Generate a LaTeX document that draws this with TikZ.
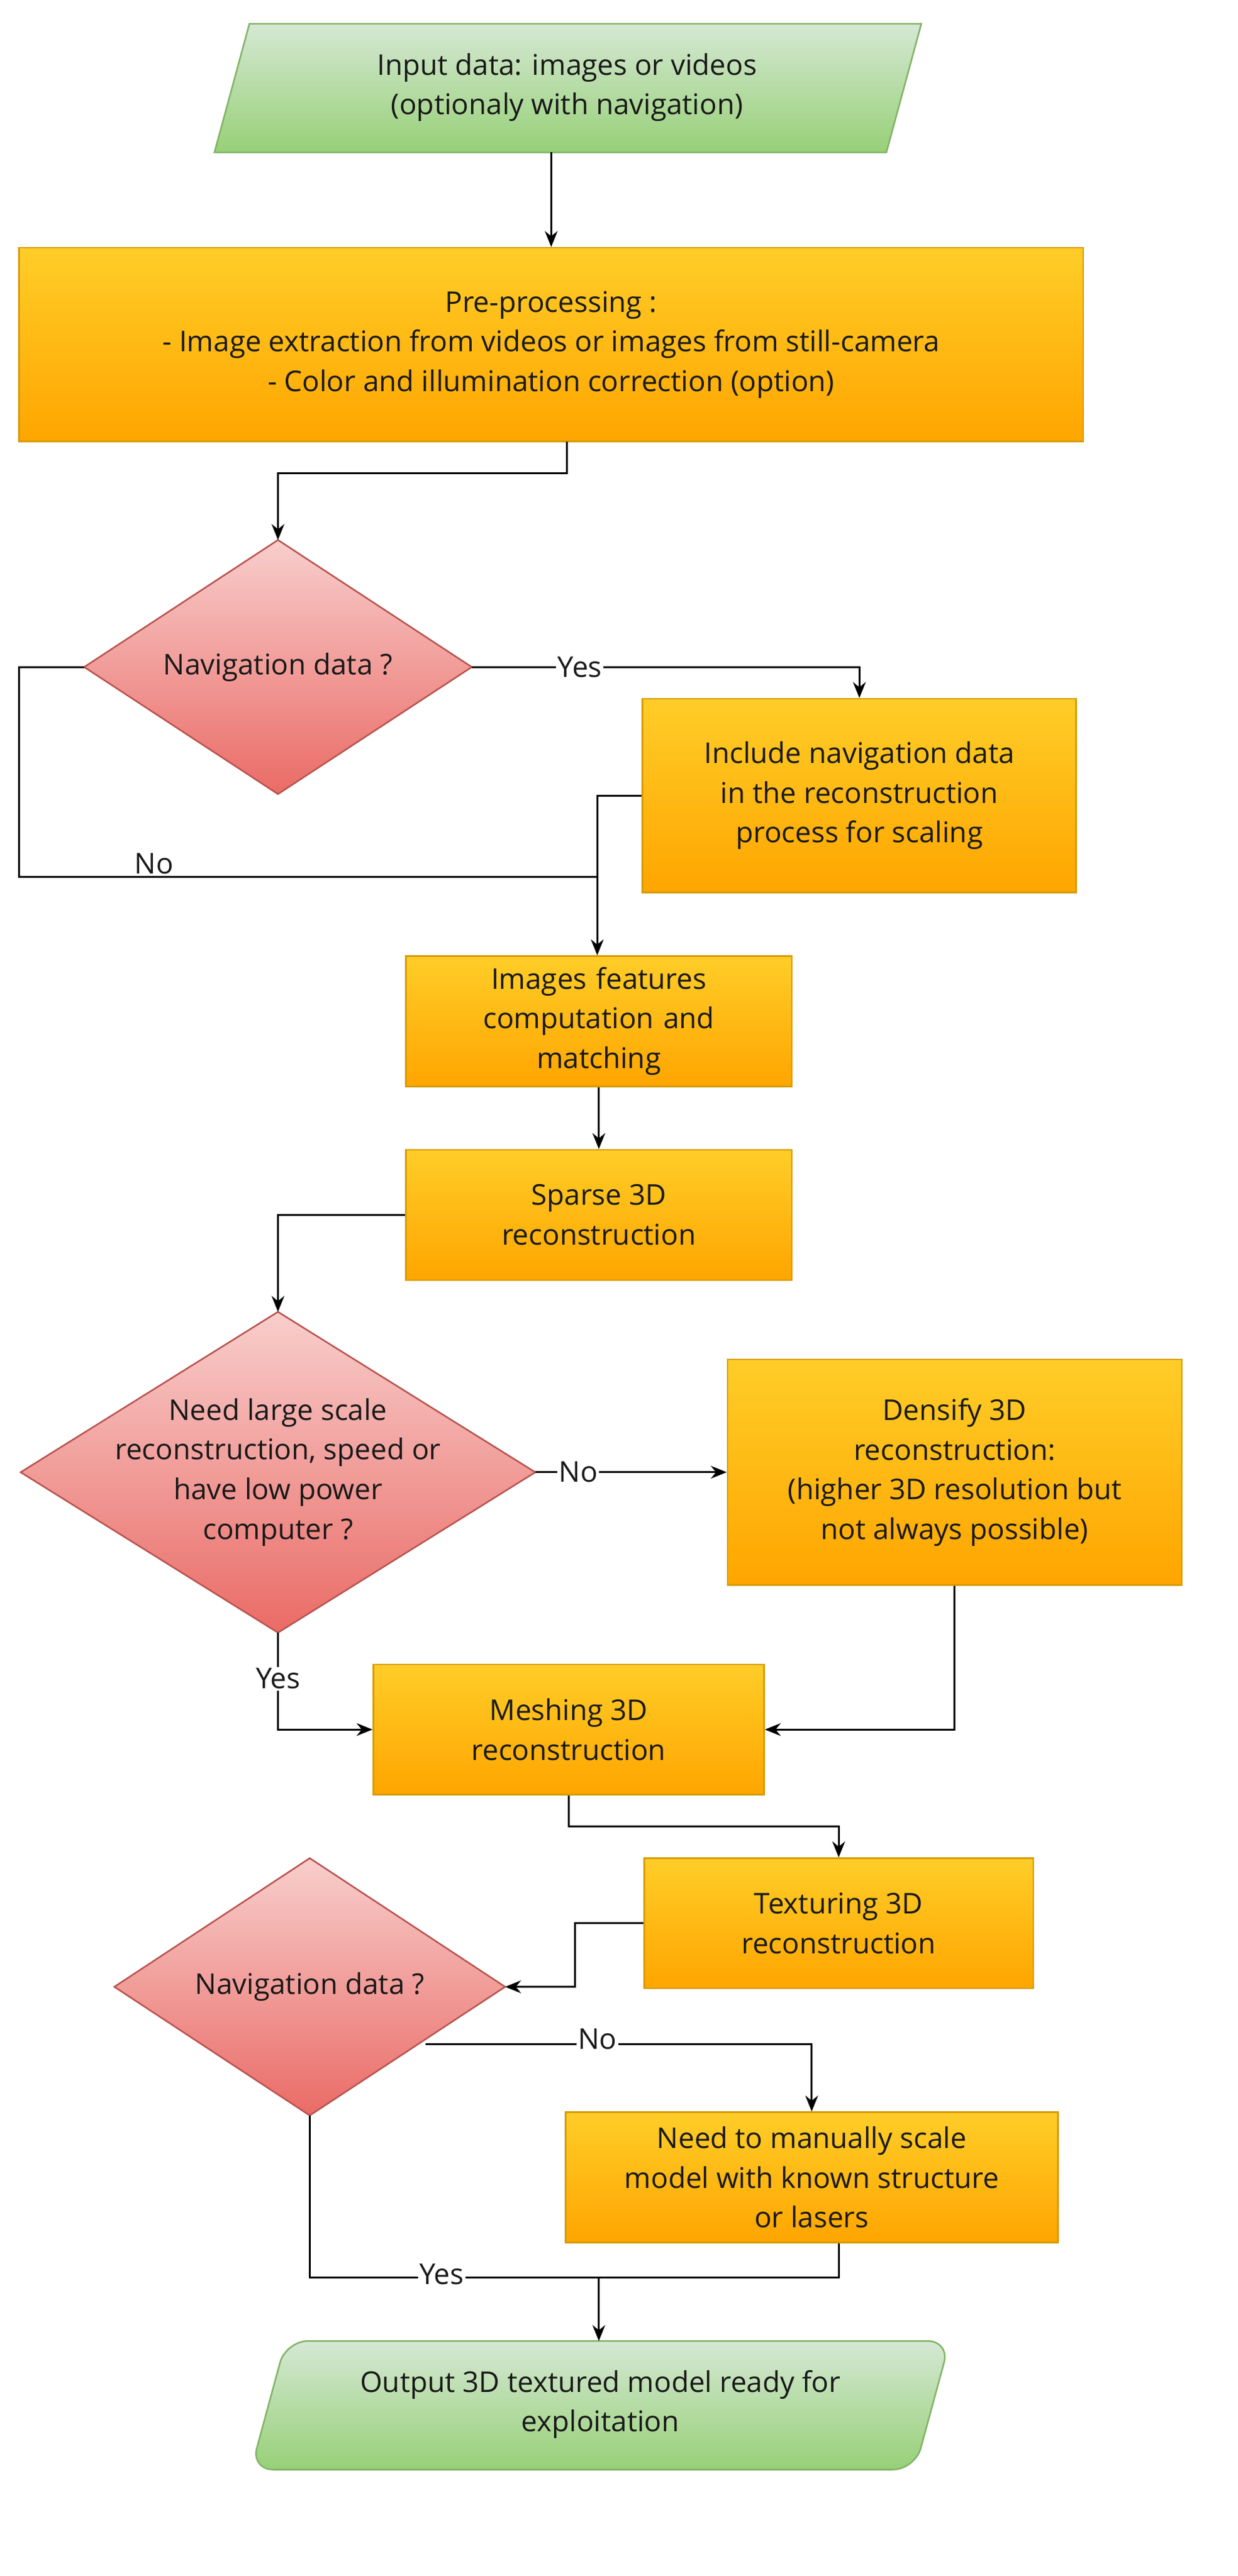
\documentclass[tikz,border=0pt]{standalone}
\usepackage{fontspec}
\setmainfont{Open Sans}
\usetikzlibrary{shapes.geometric,arrows.meta}
\definecolor{otop}{HTML}{FFCD28}\definecolor{obot}{HTML}{FFA500}\definecolor{oline}{HTML}{D79B00}
\definecolor{rtop}{HTML}{F8CECC}\definecolor{rbot}{HTML}{EA6B66}\definecolor{rline}{HTML}{B85450}
\definecolor{gtop}{HTML}{D5E8D4}\definecolor{gbot}{HTML}{97D077}\definecolor{gline}{HTML}{82B366}
\begin{document}
\begin{tikzpicture}[x=1pt,y=-1pt,
  every node/.style={font=\fontsize{18}{25}\selectfont, text=black!90},
  box/.style={draw=oline, line width=1pt, top color=otop, bottom color=obot, align=center, inner sep=2pt},
  dia/.style={draw=rline, line width=1pt, top color=rtop, bottom color=rbot},
  grn/.style={draw=gline, line width=1pt, top color=gtop, bottom color=gbot},
  ln/.style={line width=1.2pt, black},
  ar/.style={ln, -{Stealth[length=10pt,width=8pt]}},
  lab/.style={fill=white, inner sep=1pt}]
\useasboundingbox (0,0) rectangle (779,1622);
% input
\path[grn] (157,15) -- (580,15) -- (558,96) -- (135,96) -- cycle;
\node[align=center] (in) at (357,55) {Input data: images or videos\\(optionaly with navigation)};
\node[box, minimum width=670, minimum height=122] (pre) at (347,217) {Pre-processing :\\- Image extraction from videos or images from still-camera\\- Color and illumination correction (option)};
\draw[ar] (347,96) -- (pre.north);
% diamond 1
\coordinate (d1n) at (175,340); \coordinate (d1s) at (175,500);
\coordinate (d1w) at (53,420); \coordinate (d1e) at (297,420);
\path[dia] (d1n) -- (d1e) -- (d1s) -- (d1w) -- cycle;
\node[align=center] (d1) at (175,420) {Navigation data ?};
\draw[ar] (357,278) -- (357,298) -- (175,298) -- (d1n);
\node[box, minimum width=273, minimum height=122] (inc) at (541,501) {Include navigation data\\in the reconstruction\\process for scaling};
\draw[ar] (d1e) -- (541,420) -- (inc.north);
\node[lab] at (365,420) {Yes};
\node[box, minimum width=243, minimum height=82, text width=235] (feat) at (377,643) {Images features\\computation and\\matching};
\draw[ar] (d1w) -- (12,420) -- (12,552) -- (376,552) -- (feat.north -| 376,0);
\draw[ln] (inc.west) -- (376,501) -- (376,552);
\node[lab] at (97,544) {No};
\node[box, minimum width=243, minimum height=82] (sp) at (377,765) {Sparse 3D\\reconstruction};
\draw[ar] (feat.south) -- (sp.north);
% diamond 2
\coordinate (d2n) at (175,826); \coordinate (d2s) at (175,1028);
\coordinate (d2w) at (13,927); \coordinate (d2e) at (337,927);
\path[dia] (d2n) -- (d2e) -- (d2s) -- (d2w) -- cycle;
\node[align=center] (d2) at (175,927) {Need large scale\\reconstruction, speed or\\have low power\\computer ?};
\draw[ar] (sp.west) -- (175,765) -- (d2n);
\node[box, minimum width=286, minimum height=142] (den) at (601,927) {Densify 3D\\reconstruction:\\(higher 3D resolution but\\not always possible)};
\draw[ar] (d2e) -- (den.west);
\node[lab] at (364,927) {No};
\node[box, minimum width=246, minimum height=82] (mesh) at (358,1089) {Meshing 3D\\reconstruction};
\draw[ar] (den.south) -- (601,1089) -- (mesh.east);
\draw[ar] (d2s) -- (175,1089) -- (mesh.west);
\node[lab] at (175,1057) {Yes};
\node[box, minimum width=245, minimum height=82] (tex) at (528,1211) {Texturing 3D\\reconstruction};
\draw[ar] (mesh.south) -- (358,1150) -- (528,1150) -- (tex.north);
% diamond 3
\coordinate (d3n) at (195,1170); \coordinate (d3s) at (195,1332);
\coordinate (d3w) at (72,1251); \coordinate (d3e) at (318,1251);
\path[dia] (d3n) -- (d3e) -- (d3s) -- (d3w) -- cycle;
\node[align=center] (d3) at (195,1251) {Navigation data ?};
\draw[ar] (tex.west) -- (362,1211) -- (362,1251) -- (d3e);
\node[box, minimum width=310, minimum height=82] (man) at (511,1371) {Need to manually scale\\model with known structure\\or lasers};
\coordinate (nostart) at (268,1287);
\draw[ar] (nostart) -- (511,1287) -- (man.north);
\node[lab] at (376,1284) {No};
% output
\path[grn, rounded corners=14pt] (180,1474) -- (598,1474) -- (576,1555) -- (158,1555) -- cycle;
\node[align=center] (out) at (378,1514) {Output 3D textured model ready for\\exploitation};
\draw[ln] (d3s) -- (195,1434) -- (528,1434) -- (man.south -| 528,0);
\draw[ar] (377,1434) -- (377,1474);
\node[lab] at (278,1432) {Yes};
\end{tikzpicture}
\end{document}
